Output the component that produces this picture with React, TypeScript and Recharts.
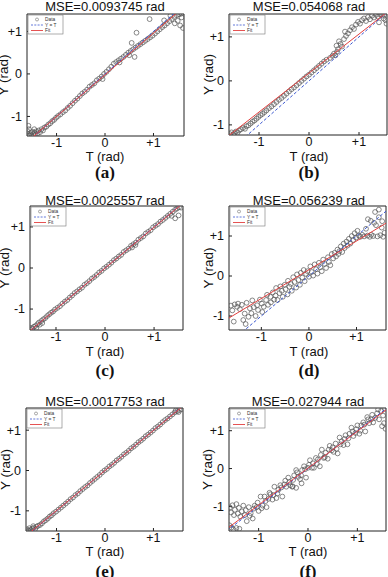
import { ScatterChart, Scatter, XAxis, YAxis } from 'recharts';

type Pair = [number, number];

const FONT = "'Liberation Sans', Arial, Helvetica, sans-serif";

// tick values shared by all six panels
const ticks = [-1, 0, 1];
const tickLabel = (v: number) => (v > 0 ? `+${v}` : `${v}`);

const titles = [
  'MSE=0.0093745 rad',
  'MSE=0.054068 rad',
  'MSE=0.0025557 rad',
  'MSE=0.056239 rad',
  'MSE=0.0017753 rad',
  'MSE=0.027944 rad',
];
const letters = ['(a)', '(b)', '(c)', '(d)', '(e)', '(f)'];
const legendLabels = ['Data', 'Y = T', 'Fit'];

// Y = T reference
const identity: Pair[] = [[-1.8, -1.8], [1.8, 1.8]];

// (a)
const dataA: Pair[] = [
  [-1.6, -1.35], [-1.59, -1.42], [-1.57, -1.3], [-1.56, -1.45], [-1.54, -1.39], [-1.52, -1.44], [-1.5, -1.36],
  [-1.48, -1.42], [-1.46, -1.38], [-1.44, -1.43], [-1.42, -1.35], [-1.39, -1.4], [-1.37, -1.33], [-1.34, -1.37],
  [-1.31, -1.3], [-1.28, -1.33], [-1.25, -1.26], [-1.21, -1.24], [-1.17, -1.19], [-1.13, -1.16], [-1.09, -1.11],
  [-1.05, -1.08], [-1.01, -1.03], [-0.97, -0.99], [-0.92, -0.95], [-0.87, -0.9], [-0.82, -0.86], [-0.77, -0.8],
  [-0.72, -0.75], [-0.67, -0.69], [-0.62, -0.63], [-0.57, -0.58], [-0.52, -0.52], [-0.47, -0.46], [-0.42, -0.42],
  [-0.37, -0.37], [-0.32, -0.3], [-0.27, -0.26], [-0.22, -0.22], [-0.17, -0.15], [-0.12, -0.11], [-0.07, -0.06],
  [-0.02, 0.0], [0.03, 0.05], [0.08, 0.11], [0.13, 0.17], [0.18, 0.24], [0.23, 0.28], [0.28, 0.32], [0.33, 0.36],
  [0.38, 0.4], [0.43, 0.45], [0.48, 0.5], [0.53, 0.54], [0.58, 0.58], [0.63, 0.62], [0.68, 0.66], [0.73, 0.7],
  [0.78, 0.74], [0.83, 0.78], [0.88, 0.82], [0.93, 0.86], [0.98, 0.9], [1.03, 0.95], [1.08, 1.0], [1.13, 1.05],
  [1.18, 1.1], [1.23, 1.14], [1.28, 1.19], [1.33, 1.24], [1.38, 1.29], [1.43, 1.34], [1.48, 1.38], [1.53, 1.4],
  [1.58, 1.42], [0.55, 0.73], [0.65, 0.97], [0.61, 0.4], [0.5, 0.44], [0.92, 1.29], [1.44, 1.19], [1.55, 1.14],
  [1.61, 1.08], [1.5, 1.25], [1.35, 1.37], [1.22, 1.26], [1.58, 1.33], [-1.58, -1.22], [-1.46, -1.3], [0.3, 0.27],
  [-0.05, -0.12],
];
const fitA: Pair[] = [[-1.61, -1.6], [1.63, 1.58]];

// (b)
const dataB: Pair[] = [
  [-1.58, -1.21], [-1.55, -1.17], [-1.52, -1.22], [-1.49, -1.19], [-1.46, -1.15], [-1.43, -1.18], [-1.4, -1.13],
  [-1.36, -1.1], [-1.32, -1.07], [-1.28, -1.09], [-1.25, -1.03], [-1.21, -1.01], [-1.17, -0.97], [-1.13, -0.93],
  [-1.09, -0.9], [-1.05, -0.86], [-1.01, -0.82], [-0.97, -0.78], [-0.93, -0.75], [-0.89, -0.71], [-0.85, -0.67],
  [-0.8, -0.62], [-0.75, -0.58], [-0.7, -0.53], [-0.65, -0.48], [-0.6, -0.43], [-0.55, -0.39], [-0.5, -0.34],
  [-0.45, -0.29], [-0.4, -0.24], [-0.35, -0.19], [-0.3, -0.15], [-0.25, -0.1], [-0.2, -0.05], [-0.15, 0.0],
  [-0.1, 0.05], [-0.05, 0.1], [0.0, 0.14], [0.05, 0.19], [0.1, 0.24], [0.15, 0.29], [0.2, 0.34], [0.25, 0.39],
  [0.3, 0.44], [0.35, 0.48], [0.42, 0.52], [0.47, 0.57], [0.5, 0.62], [0.53, 0.58], [0.56, 0.66], [0.58, 0.72],
  [0.55, 0.8], [0.6, 0.9], [0.63, 0.84], [0.66, 0.78], [0.7, 0.95], [0.74, 1.02], [0.72, 1.12], [0.78, 1.08],
  [0.82, 1.15], [0.86, 1.22], [0.9, 1.18], [0.94, 1.28], [0.98, 1.34], [1.02, 1.3], [1.06, 1.38], [1.1, 1.42],
  [1.14, 1.36], [1.18, 1.45], [1.22, 1.4], [1.26, 1.48], [1.3, 1.44], [1.34, 1.5], [1.38, 1.46], [1.42, 1.51],
  [1.46, 1.48], [1.5, 1.5], [1.53, 1.38], [1.55, 1.3], [1.49, 1.42], [1.4, 1.33],
];
const fitB: Pair[] = [[-1.6, -1.24], [1.56, 1.56]];

// (c)
const dataC: Pair[] = [
  [-1.53, -1.5], [-1.51, -1.46], [-1.48, -1.47], [-1.45, -1.43], [-1.42, -1.41], [-1.38, -1.37], [-1.35, -1.33],
  [-1.33, -1.38], [-1.3, -1.29], [-1.26, -1.25], [-1.22, -1.22], [-1.18, -1.17], [-1.14, -1.13], [-1.1, -1.09],
  [-1.06, -1.06], [-1.02, -1.01], [-0.97, -0.97], [-0.92, -0.93], [-0.87, -0.87], [-0.82, -0.82], [-0.77, -0.78],
  [-0.72, -0.72], [-0.67, -0.67], [-0.62, -0.61], [-0.57, -0.57], [-0.52, -0.52], [-0.47, -0.48], [-0.42, -0.41],
  [-0.37, -0.37], [-0.32, -0.32], [-0.27, -0.26], [-0.22, -0.22], [-0.17, -0.17], [-0.12, -0.11], [-0.07, -0.07],
  [-0.02, -0.01], [0.03, 0.03], [0.08, 0.08], [0.13, 0.13], [0.18, 0.19], [0.23, 0.23], [0.28, 0.28], [0.33, 0.32],
  [0.38, 0.39], [0.43, 0.43], [0.48, 0.47], [0.53, 0.54], [0.58, 0.58], [0.63, 0.62], [0.68, 0.69], [0.73, 0.73],
  [0.78, 0.77], [0.83, 0.84], [0.88, 0.88], [0.93, 0.92], [0.98, 0.99], [1.03, 1.03], [1.08, 1.07], [1.13, 1.13],
  [1.18, 1.17], [1.23, 1.22], [1.28, 1.27], [1.33, 1.32], [1.38, 1.37], [1.43, 1.42], [1.47, 1.45], [1.51, 1.48],
  [1.55, 1.47], [1.43, 1.21], [1.5, 1.28], [1.36, 1.27], [0.55, 0.5], [0.62, 0.56], [-1.28, -1.34], [-1.4, -1.46],
];
const fitC: Pair[] = [[-1.53, -1.53], [1.59, 1.58]];

// (d)
const dataD: Pair[] = [
  [-1.64, -0.74], [-1.61, -0.86], [-1.58, -1.14], [-1.56, -0.71], [-1.51, -0.77], [-1.49, -0.69], [-1.45, -0.83],
  [-1.41, -0.72], [-1.38, -1.1], [-1.35, -0.94], [-1.33, -1.2], [-1.31, -0.67], [-1.27, -1.02], [-1.24, -0.81],
  [-1.21, -0.93], [-1.19, -0.61], [-1.16, -0.78], [-1.12, -1.0], [-1.09, -0.73], [-1.07, -0.85], [-1.03, -0.59],
  [-0.99, -0.69], [-0.98, -0.9], [-0.95, -0.77], [-0.9, -0.6], [-0.88, -0.47], [-0.86, -0.72], [-0.81, -0.52],
  [-0.8, -0.66], [-0.76, -0.41], [-0.73, -0.59], [-0.7, -0.49], [-0.69, -0.3], [-0.66, -0.6], [-0.62, -0.43],
  [-0.6, -0.26], [-0.57, -0.37], [-0.55, -0.52], [-0.51, -0.22], [-0.49, -0.33], [-0.45, -0.46], [-0.44, -0.12],
  [-0.41, -0.27], [-0.38, -0.2], [-0.36, -0.37], [-0.33, -0.03], [-0.3, -0.15], [-0.27, -0.29], [-0.25, 0.04],
  [-0.22, -0.1], [-0.19, -0.22], [-0.17, 0.08], [-0.14, -0.04], [-0.11, 0.15], [-0.09, -0.13], [-0.06, 0.05],
  [-0.03, 0.12], [0.0, -0.02], [0.03, 0.24], [0.06, 0.1], [0.09, 0.01], [0.12, 0.29], [0.15, 0.17], [0.18, 0.06],
  [0.21, 0.33], [0.24, 0.22], [0.27, 0.12], [0.3, 0.41], [0.33, 0.3], [0.36, 0.2], [0.4, 0.47], [0.42, 0.35],
  [0.45, 0.27], [0.48, 0.55], [0.51, 0.44], [0.54, 0.58], [0.57, 0.49], [0.6, 0.66], [0.62, 0.55], [0.64, 0.62],
  [0.67, 0.74], [0.7, 0.6], [0.73, 0.81], [0.75, 0.7], [0.79, 0.86], [0.81, 0.76], [0.84, 0.93], [0.87, 0.81],
  [0.9, 1.0], [0.93, 0.9], [0.96, 1.07], [0.99, 0.96], [1.02, 1.13], [1.05, 1.01], [1.08, 0.98], [1.12, 1.03],
  [1.16, 0.99], [1.2, 1.18], [1.23, 1.01], [1.28, 0.98], [1.31, 1.03], [1.35, 1.0], [1.37, 1.33], [1.41, 1.27],
  [1.44, 0.99], [1.47, 1.47], [1.5, 1.02], [1.53, 1.21], [1.56, 0.98], [1.59, 1.08], [1.39, 1.6], [1.47, 1.66],
  [1.54, 1.37], [1.3, 1.38], [1.24, 1.42],
];
const fitD: Pair[] = [[-1.68, -1.05], [1.62, 1.32]];

// (e)
const dataE: Pair[] = [
  [-1.61, -1.46], [-1.58, -1.49], [-1.56, -1.43], [-1.53, -1.47], [-1.5, -1.44], [-1.47, -1.42], [-1.44, -1.45],
  [-1.41, -1.39], [-1.38, -1.37], [-1.34, -1.35], [-1.3, -1.31], [-1.26, -1.26], [-1.22, -1.23], [-1.18, -1.19],
  [-1.14, -1.14], [-1.1, -1.11], [-1.06, -1.06], [-1.01, -1.02], [-0.96, -0.97], [-0.91, -0.92], [-0.86, -0.87],
  [-0.81, -0.82], [-0.76, -0.77], [-0.71, -0.71], [-0.66, -0.67], [-0.61, -0.61], [-0.56, -0.57], [-0.51, -0.51],
  [-0.46, -0.46], [-0.41, -0.41], [-0.36, -0.37], [-0.31, -0.31], [-0.26, -0.26], [-0.21, -0.21], [-0.16, -0.16],
  [-0.11, -0.11], [-0.06, -0.05], [-0.01, 0.0], [0.04, 0.04], [0.09, 0.1], [0.14, 0.14], [0.19, 0.19], [0.24, 0.25],
  [0.29, 0.29], [0.34, 0.34], [0.39, 0.4], [0.44, 0.44], [0.49, 0.49], [0.54, 0.55], [0.59, 0.59], [0.64, 0.64],
  [0.69, 0.7], [0.74, 0.74], [0.79, 0.79], [0.84, 0.85], [0.89, 0.89], [0.94, 0.94], [0.99, 0.99], [1.04, 1.05],
  [1.09, 1.09], [1.14, 1.14], [1.19, 1.2], [1.24, 1.25], [1.29, 1.29], [1.34, 1.34], [1.39, 1.39], [1.44, 1.44],
  [1.49, 1.47], [1.54, 1.5], [1.58, 1.52], [1.52, 1.45], [1.46, 1.49], [-1.55, -1.5], [-1.48, -1.38],
];
const fitE: Pair[] = [[-1.63, -1.62], [1.61, 1.6]];

// (f)
const dataF: Pair[] = [
  [-1.58, -1.03], [-1.56, -1.16], [-1.53, -0.97], [-1.5, -1.23], [-1.48, -1.09], [-1.45, -0.94], [-1.42, -1.19],
  [-1.4, -1.04], [-1.37, -1.27], [-1.34, -1.13], [-1.31, -0.98], [-1.55, -1.56], [-1.51, -1.61], [-1.45, -1.57],
  [-1.39, -1.59], [-1.59, -1.5],
  [-1.28, -1.23], [-1.24, -1.39], [-1.2, -1.02], [-1.16, -1.18], [-1.12, -1.32], [-1.08, -0.98], [-1.04, -1.02],
  [-1.0, -1.12], [-0.96, -0.74], [-0.92, -0.98], [-0.88, -0.74], [-0.84, -1.02], [-0.8, -0.8], [-0.76, -0.68],
  [-0.72, -0.82], [-0.68, -0.48], [-0.64, -0.78], [-0.6, -0.56], [-0.56, -0.44], [-0.52, -0.74], [-0.48, -0.42],
  [-0.44, -0.48], [-0.4, -0.24], [-0.36, -0.44], [-0.32, -0.48], [-0.28, -0.18], [-0.24, -0.04], [-0.2, -0.22],
  [-0.16, -0.28], [-0.12, -0.04], [-0.08, 0.06], [-0.04, -0.24], [0.0, 0.02], [0.04, 0.22], [0.08, 0.02],
  [0.12, 0.02], [0.16, 0.28], [0.2, 0.24], [0.24, 0.06], [0.28, 0.5], [0.32, 0.28], [0.36, 0.42], [0.4, 0.26],
  [0.44, 0.6], [0.48, 0.48], [0.52, 0.44], [0.56, 0.66], [0.6, 0.4], [0.64, 0.82], [0.68, 0.72], [0.72, 0.62],
  [0.76, 0.88], [0.8, 0.64], [0.84, 0.92], [0.88, 1.08], [0.92, 0.86], [0.96, 0.94], [1.0, 1.14], [1.04, 0.92],
  [1.08, 1.14], [1.12, 1.22], [1.16, 0.98], [1.2, 1.36], [1.24, 1.2], [1.28, 1.3], [1.32, 1.22],
  [-1.26, -1.1], [-1.18, -1.25], [-1.1, -1.06], [-1.02, -0.9], [-0.94, -1.05], [-0.86, -0.86], [-0.78, -0.64],
  [-0.7, -0.7], [-0.62, -0.66], [-0.54, -0.5], [-0.46, -0.32], [-0.38, -0.36], [-0.3, -0.3], [-0.22, -0.1],
  [-0.14, -0.18], [-0.06, -0.02], [0.02, 0.1], [0.1, 0.14], [0.18, 0.12], [0.26, 0.36], [0.34, 0.3], [0.42, 0.5],
  [0.5, 0.56], [0.58, 0.52], [0.66, 0.64], [0.74, 0.78], [0.82, 0.8], [0.9, 0.98], [0.98, 1.04], [1.06, 1.0],
  [1.14, 1.16], [1.22, 1.3], [1.3, 1.42], [1.36, 1.34], [1.4, 1.46], [1.44, 1.3], [1.48, 1.52], [1.52, 1.4],
  [1.56, 1.58], [1.54, 1.2], [1.5, 1.12], [1.57, 1.05], [1.42, 1.56], [-0.31, -0.47], [-0.24, -0.51], [-0.13, -0.39],
];
const fitF: Pair[] = [[-1.6, -1.55], [1.58, 1.55]];

interface Box { x: number; y: number; w: number; h: number }
interface PanelCfg {
  box: Box;
  xDomain: [number, number];
  yDomain: [number, number];
  data: Pair[];
  fit: Pair[];
  titleY: number;
  tLabelY: number;
  letterY: number;
  yLabelX: number;
}

const panels: PanelCfg[] = [
  { box: { x: 27, y: 14, w: 157, h: 122 }, xDomain: [-1.61, 1.63], yDomain: [-1.46, 1.41], data: dataA, fit: fitA, titleY: 10.5, tLabelY: 156, letterY: 172.5, yLabelX: 3 },
  { box: { x: 229, y: 14, w: 158, h: 121 }, xDomain: [-1.6, 1.56], yDomain: [-1.23, 1.52], data: dataB, fit: fitB, titleY: 10.5, tLabelY: 156, letterY: 172, yLabelX: 208 },
  { box: { x: 30, y: 206, w: 153, h: 124 }, xDomain: [-1.53, 1.59], yDomain: [-1.51, 1.51], data: dataC, fit: fitC, titleY: 204.5, tLabelY: 351, letterY: 370.5, yLabelX: 4 },
  { box: { x: 229, y: 206, w: 157, h: 124 }, xDomain: [-1.68, 1.62], yDomain: [-1.35, 1.75], data: dataD, fit: fitD, titleY: 204.5, tLabelY: 351, letterY: 370.5, yLabelX: 208 },
  { box: { x: 26, y: 408, w: 157, h: 123 }, xDomain: [-1.63, 1.61], yDomain: [-1.5, 1.55], data: dataE, fit: fitE, titleY: 405.5, tLabelY: 551, letterY: 571, yLabelX: 5 },
  { box: { x: 229, y: 408, w: 157, h: 123 }, xDomain: [-1.6, 1.58], yDomain: [-1.65, 1.6], data: dataF, fit: fitF, titleY: 405.5, tLabelY: 551, letterY: 571.5, yLabelX: 207 },
];

const toPoints = (arr: Pair[]) => arr.map(([t, y]) => ({ t, y }));

const Ring = (p: any) =>
  p.cx == null ? <g /> : <circle cx={p.cx} cy={p.cy} r={2.4} fill="none" stroke="#555" strokeWidth={0.7} />;
const NoDot = () => <g />;

const tickStyle = { fontSize: 12.5, fill: '#111', fontFamily: FONT };

function Panel({ cfg }: { cfg: PanelCfg }) {
  const { box, xDomain, yDomain } = cfg;
  return (
    <div style={{ position: 'absolute', left: box.x - 32, top: box.y - 2 }}>
      <ScatterChart width={box.w + 34} height={box.h + 26} margin={{ top: 1, right: 1, bottom: 0, left: 0 }}>
        <XAxis
          dataKey="t"
          type="number"
          domain={xDomain}
          allowDataOverflow
          ticks={ticks}
          interval={0}
          tickFormatter={tickLabel}
          height={24}
          tickSize={-3}
          tickMargin={5}
          stroke="#222"
          tick={tickStyle}
        />
        <XAxis
          xAxisId="top"
          orientation="top"
          type="number"
          domain={xDomain}
          allowDataOverflow
          ticks={ticks}
          interval={0}
          height={1}
          tick={false}
          tickSize={-3}
          stroke="#222"
        />
        <YAxis
          dataKey="y"
          type="number"
          domain={yDomain}
          allowDataOverflow
          ticks={ticks}
          interval={0}
          tickFormatter={tickLabel}
          width={32}
          tickSize={-3}
          tickMargin={8}
          stroke="#222"
          tick={tickStyle}
        />
        <YAxis
          yAxisId="right"
          orientation="right"
          type="number"
          domain={yDomain}
          allowDataOverflow
          ticks={ticks}
          interval={0}
          width={1}
          tick={false}
          tickSize={-3}
          stroke="#222"
        />
        <Scatter data={toPoints(cfg.data)} shape={Ring} isAnimationActive={false} />
        <Scatter
          data={toPoints(identity)}
          line={{ stroke: '#3a57d0', strokeWidth: 1, strokeDasharray: '3 2' }}
          shape={NoDot}
          isAnimationActive={false}
        />
        <Scatter
          data={toPoints(cfg.fit)}
          line={{ stroke: '#e2403f', strokeWidth: 1 }}
          shape={NoDot}
          isAnimationActive={false}
        />
      </ScatterChart>
    </div>
  );
}

function Labels({ cfg, i }: { cfg: PanelCfg; i: number }) {
  const { box, xDomain } = cfg;
  const zeroX = box.x + (box.w * (0 - xDomain[0])) / (xDomain[1] - xDomain[0]);
  const midY = box.y + box.h / 2;
  const lx = box.x + 1;
  const ly = box.y + 1;
  return (
    <g>
      <text x={zeroX} y={cfg.titleY} textAnchor="middle" fontSize={13} fontFamily={FONT} fill="#111">
        {titles[i]}
      </text>
      <text x={zeroX} y={cfg.tLabelY} textAnchor="middle" dominantBaseline="central" fontSize={13} fontFamily={FONT} fill="#111">
        T (rad)
      </text>
      <text
        transform={`translate(${cfg.yLabelX},${midY}) rotate(-90)`}
        textAnchor="middle"
        dominantBaseline="central"
        fontSize={13.5}
        fontFamily={FONT}
        fill="#111"
      >
        Y (rad)
      </text>
      <text
        x={zeroX}
        y={cfg.letterY}
        textAnchor="middle"
        dominantBaseline="central"
        fontSize={17}
        fontWeight="bold"
        fontFamily="'Liberation Serif', 'Times New Roman', serif"
        fill="#111"
      >
        {letters[i]}
      </text>
      {/* legend */}
      <rect x={lx} y={ly} width={35} height={19} fill="#fff" stroke="#777" strokeWidth={0.6} />
      <circle cx={lx + 9} cy={ly + 4.5} r={1.5} fill="none" stroke="#555" strokeWidth={0.5} />
      <line x1={lx + 3} x2={lx + 15} y1={ly + 10} y2={ly + 10} stroke="#3a57d0" strokeWidth={0.8} strokeDasharray="2 1.3" />
      <line x1={lx + 3} x2={lx + 15} y1={ly + 15.5} y2={ly + 15.5} stroke="#e2403f" strokeWidth={0.9} />
      {legendLabels.map((s, k) => (
        <text key={s} x={lx + 17} y={ly + 4.5 + k * 5.5} dominantBaseline="central" fontSize={4.8} fontFamily={FONT} fill="#333">
          {s}
        </text>
      ))}
    </g>
  );
}

export default function App() {
  return (
    <div style={{ position: 'absolute', left: 0, top: 0, width: 388, height: 577, background: '#fff', overflow: 'hidden' }}>
      {panels.map((p, i) => (
        <Panel key={i} cfg={p} />
      ))}
      <svg width={388} height={577} style={{ position: 'absolute', left: 0, top: 0, pointerEvents: 'none' }}>
        {panels.map((p, i) => (
          <Labels key={i} cfg={p} i={i} />
        ))}
      </svg>
    </div>
  );
}
